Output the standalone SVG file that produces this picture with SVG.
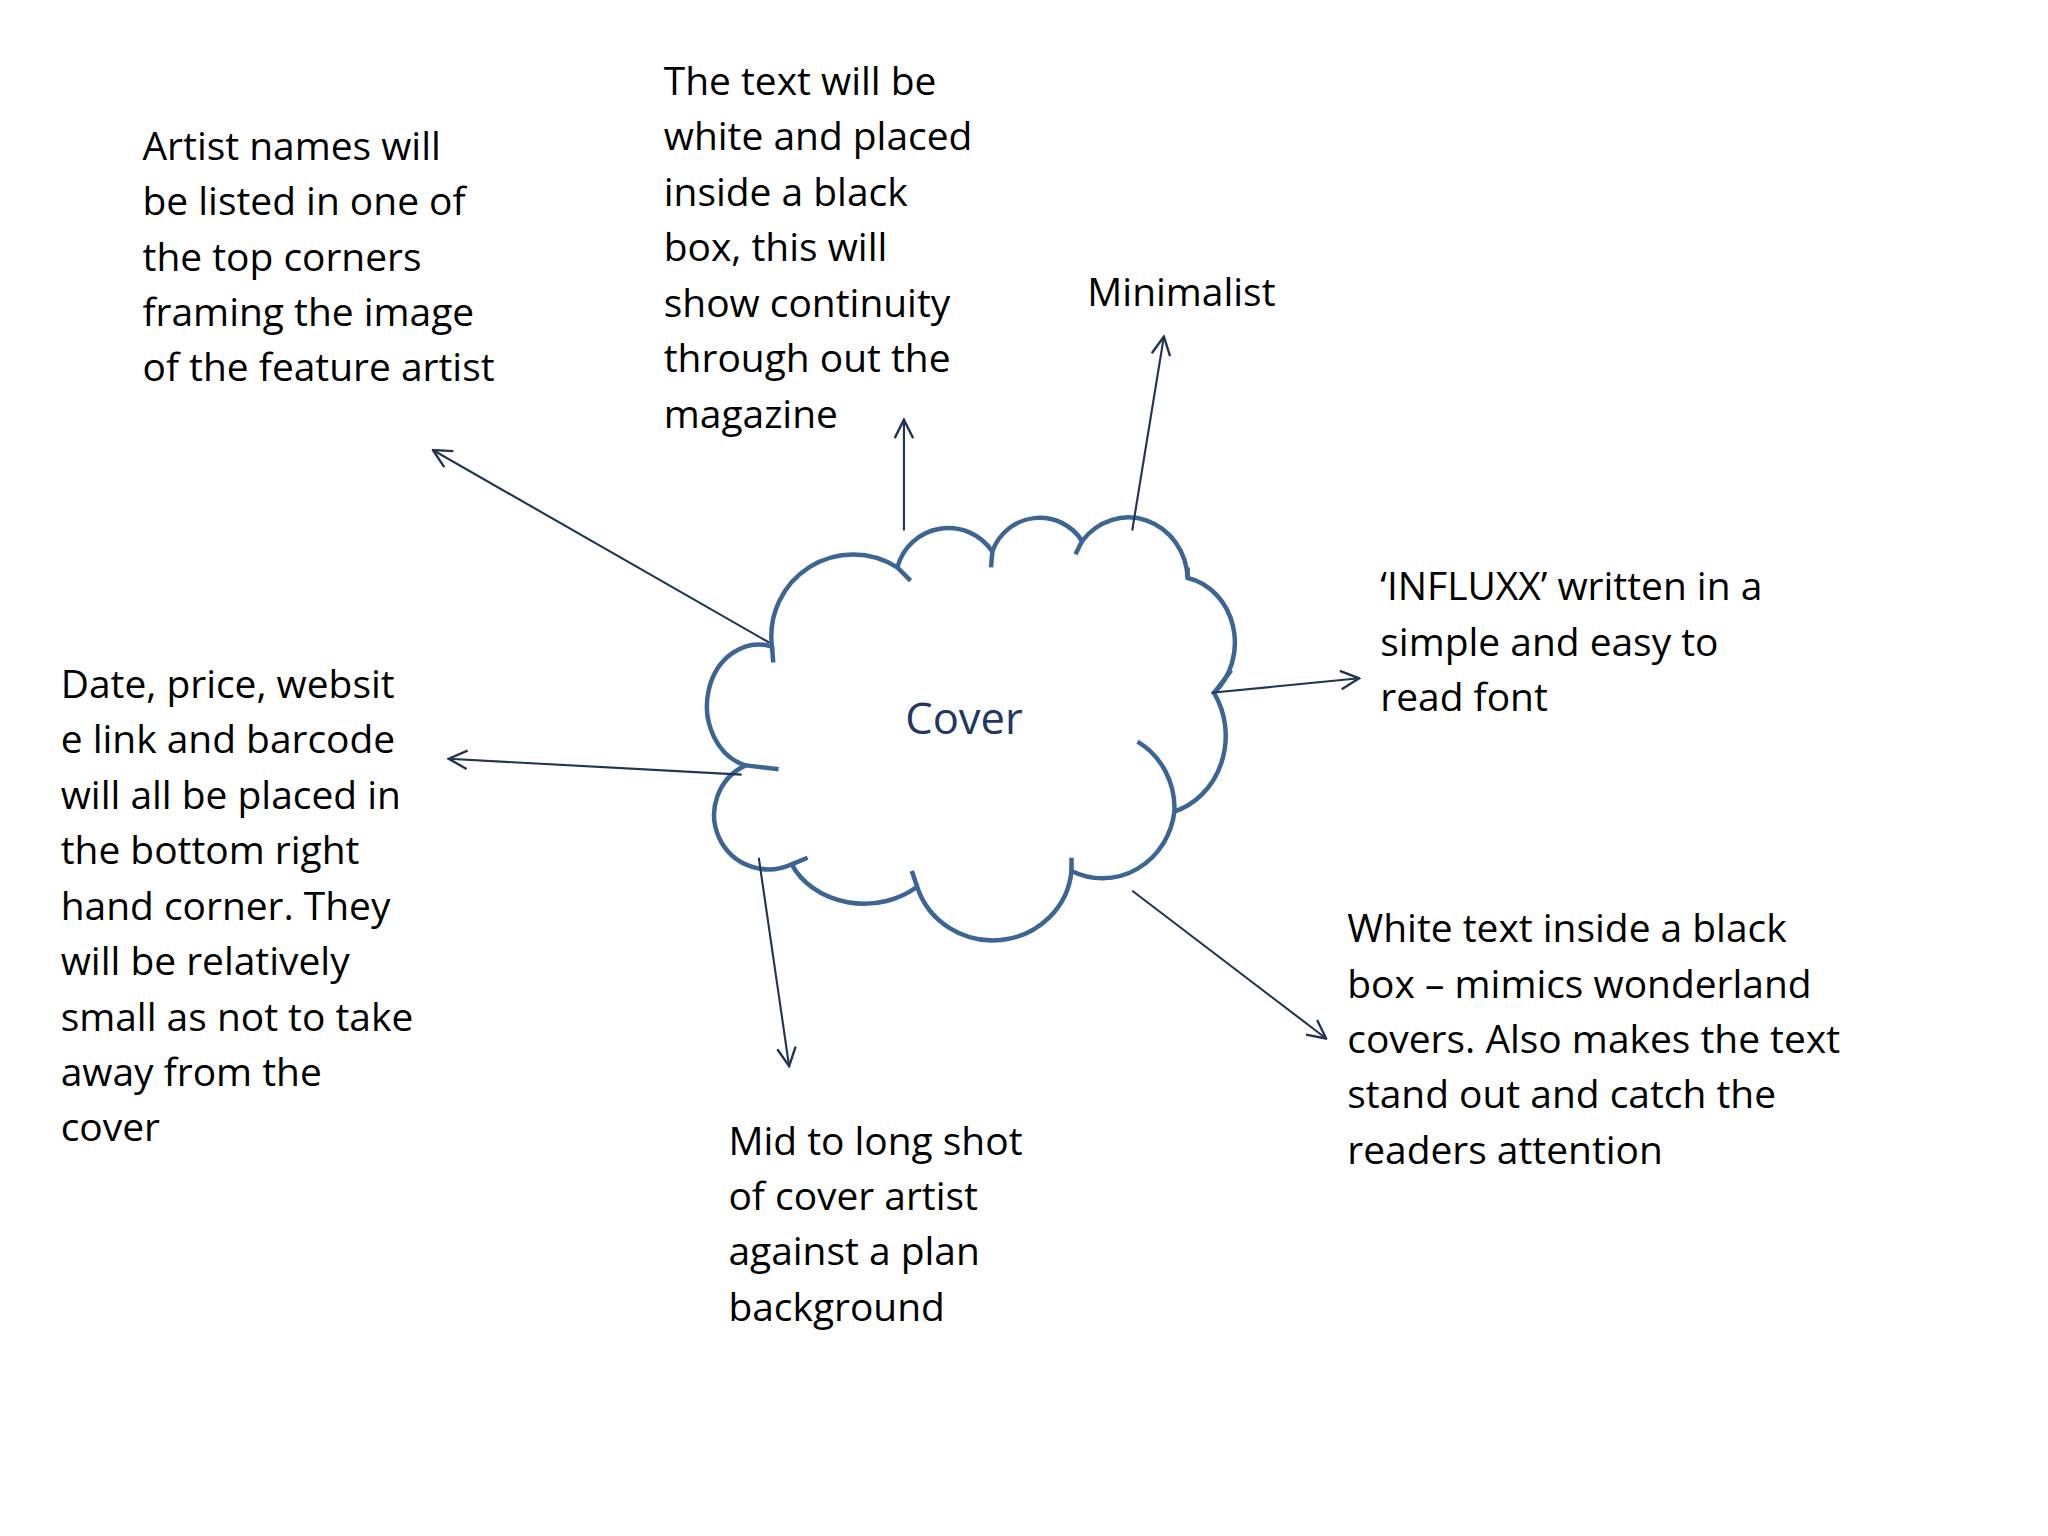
<svg xmlns="http://www.w3.org/2000/svg" width="2048" height="1536" viewBox="0 0 2048 1536">
<defs>
<style>
.t{font-family:"Open Sans","Liberation Sans",sans-serif;font-size:29.5px;fill:#000}
.c{fill:none;stroke:#3d6594;stroke-width:3.4}
.a{stroke:#1f3553;stroke-width:1.6;fill:none;marker-end:url(#ah)}
</style>
<marker id="ah" viewBox="0 0 16 16" refX="15" refY="8" markerWidth="16" markerHeight="16" markerUnits="userSpaceOnUse" orient="auto"><path d="M1,1 L15,8 L1,15" fill="none" stroke="#1f3553" stroke-width="1.8"/></marker>
</defs>
<rect width="2048" height="1536" fill="#fff"/>
<g transform="scale(1.3196)">
<g id="cover">
<path d="M585,490 A62,62 0 0 1 680,430 A40,40 0 0 1 752,418 A38,38 0 0 1 820,410 A45,48 0 0 1 900,438 A45,50 0 0 1 920,525 A55,60 0 0 1 890,615 A55,58 0 0 1 812,660 A60,58 0 0 1 695,672 A60,50 0 0 1 600,655 A40,40 0 0 1 565,580 A38,45 0 0 1 585,490 Z" fill="#fff" stroke="#3d6594" stroke-width="3.4"/>
<path class="c" d="M680,430 L690,440 M752,418 L751,430 M820,410 L815,420 M900,438 L900,430 M920,525 L933,508 M862,562 A55,58 0 0 1 890,615 M565,580 L590,583 M600,655 L612,650 M695,672 L691,660 M812,660 L812,650 M585,490 L586,502"/>
<text x="686" y="556" style="font-family:'Open Sans','Liberation Sans',sans-serif;font-size:33px;fill:#1f3864">Cover</text>
</g>
<g id="connectors">
<line class="a" x1="583" y1="487" x2="328" y2="341"/>
<line class="a" x1="685" y1="402" x2="685" y2="318"/>
<line class="a" x1="858" y1="402" x2="882" y2="255"/>
<line class="a" x1="918" y1="525" x2="1030" y2="514"/>
<line class="a" x1="562" y1="587" x2="340" y2="575"/>
<line class="a" x1="575" y1="650" x2="598" y2="808"/>
<line class="a" x1="858" y1="675" x2="1005" y2="787"/>
</g>
<g id="n1"><text class="t"><tspan x="108" y="121">Artist names will</tspan><tspan x="108" y="163">be listed in one of</tspan><tspan x="108" y="205">the top corners</tspan><tspan x="108" y="247">framing the image</tspan><tspan x="108" y="289">of the feature artist</tspan></text></g>
<g id="n2"><text class="t"><tspan x="503" y="72">The text will be</tspan><tspan x="503" y="114">white and placed</tspan><tspan x="503" y="156">inside a black</tspan><tspan x="503" y="198">box, this will</tspan><tspan x="503" y="240">show continuity</tspan><tspan x="503" y="282">through out the</tspan><tspan x="503" y="324">magazine</tspan></text></g>
<g id="n3"><text class="t" x="824" y="232">Minimalist</text></g>
<g id="n4"><text class="t"><tspan x="1046" y="455">‘INFLUXX’ written in a</tspan><tspan x="1046" y="497">simple and easy to</tspan><tspan x="1046" y="539">read font</tspan></text></g>
<g id="n5"><text class="t"><tspan x="46" y="529">Date, price, websit</tspan><tspan x="46" y="571">e link and barcode</tspan><tspan x="46" y="613">will all be placed in</tspan><tspan x="46" y="655">the bottom right</tspan><tspan x="46" y="697">hand corner. They</tspan><tspan x="46" y="739">will be relatively</tspan><tspan x="46" y="781">small as not to take</tspan><tspan x="46" y="823">away from the</tspan><tspan x="46" y="865">cover</tspan></text></g>
<g id="n6"><text class="t"><tspan x="552" y="875">Mid to long shot</tspan><tspan x="552" y="917">of cover artist</tspan><tspan x="552" y="959">against a plan</tspan><tspan x="552" y="1001">background</tspan></text></g>
<g id="n7"><text class="t"><tspan x="1021" y="714">White text inside a black</tspan><tspan x="1021" y="756">box – mimics wonderland</tspan><tspan x="1021" y="798">covers. Also makes the text</tspan><tspan x="1021" y="840">stand out and catch the</tspan><tspan x="1021" y="882">readers attention</tspan></text></g>
</g>
</svg>
